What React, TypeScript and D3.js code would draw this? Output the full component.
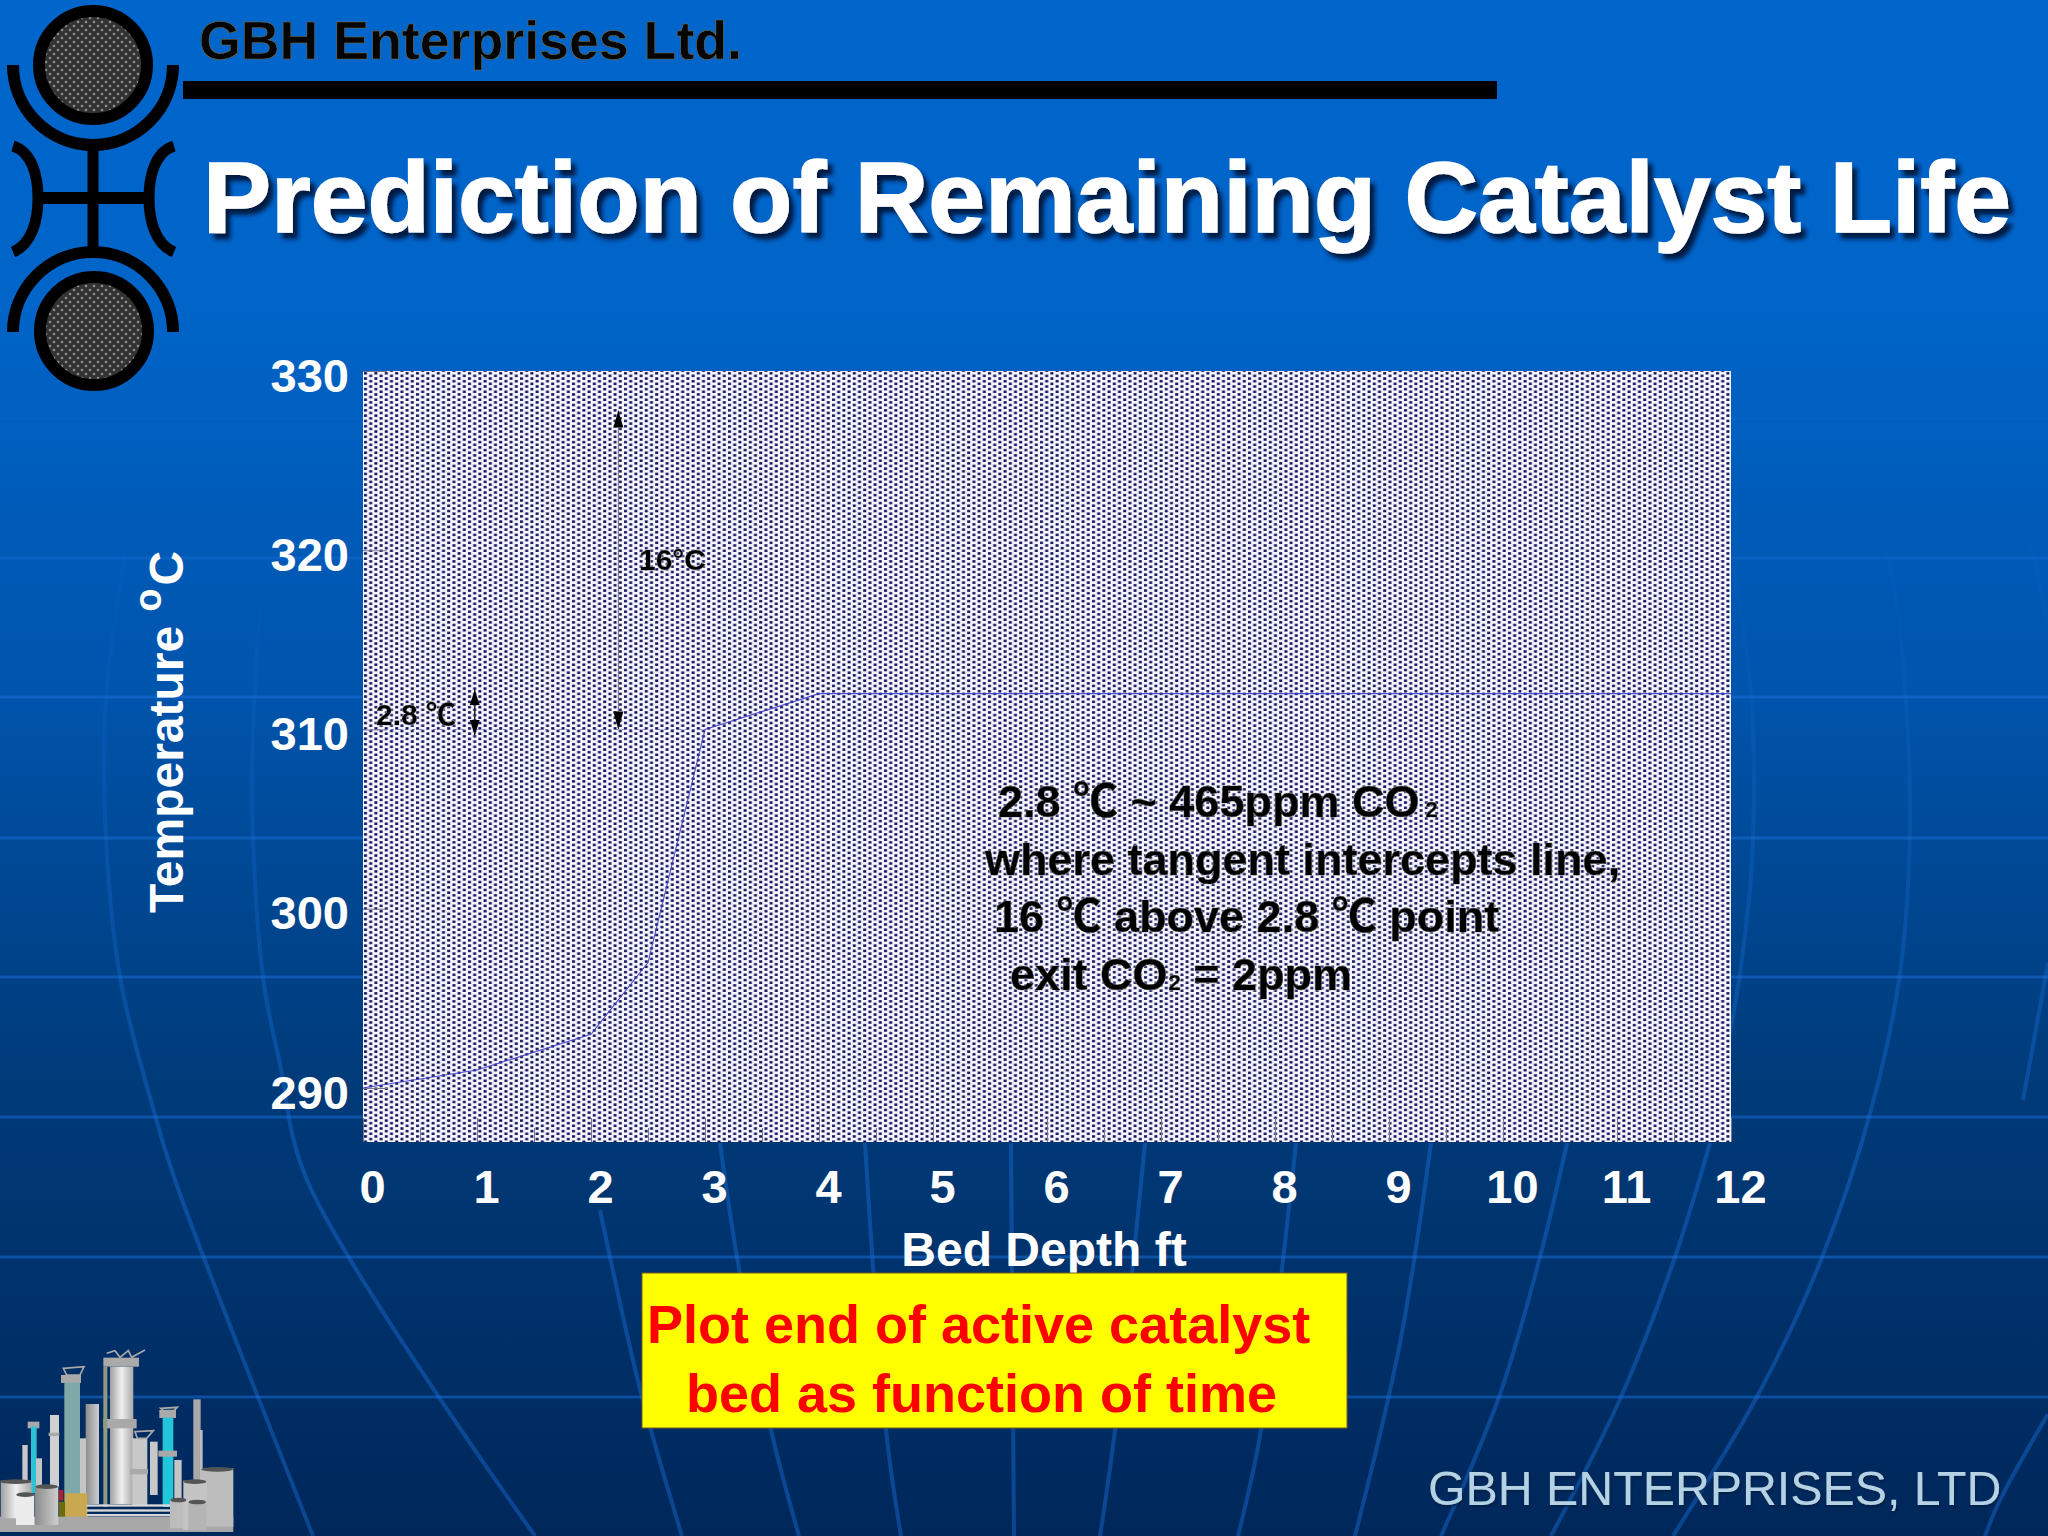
import React, { useEffect, useRef } from 'react';
import * as d3 from 'd3';

// chart values
const bedDepth = [0, 1, 2, 2.5, 3, 4, 5, 8, 12];
const temperature = [290, 291, 293, 297, 310, 312, 312, 312, 312];
const xMajorTicks = [0, 1, 2, 3, 4, 5, 6, 7, 8, 9, 10, 11, 12];
const xMinorTicks = [0.5, 1.5, 2.5, 3.5, 4.5, 5.5, 6.5, 7.5, 8.5, 9.5, 10.5, 11.5];
const yTicks = [290, 300, 310, 320, 330];
const referenceDepth = [0, 3];
const referenceTemp = [310, 310];
const tangentDepth = 2.24;
const tangentTemps = [327.8, 310];
const smallArrowDepth = 0.98;
const smallArrowTemps = [312.2, 309.7];

const noteLines = [
  { x: 998, y: 817, text: '2.8 ℃ ~ 465ppm CO', sub: '2', tail: '' },
  { x: 985, y: 875, text: 'where tangent intercepts line,', sub: '', tail: '' },
  { x: 994, y: 932, text: '16 ℃ above 2.8 ℃ point', sub: '', tail: '' },
  { x: 1010, y: 990, text: 'exit CO', sub: '2', tail: ' = 2ppm' },
];

// background globe lines
const latitudes = [418, 558, 697, 838, 977, 1117, 1257, 1397];
const meridians: [number, number][][] = [
  [[133, 507], [107, 686], [105, 814], [120, 977], [155, 1115], [175, 1180], [313, 1536]],
  [[260, 610], [252, 788], [263, 977], [280, 1064], [307, 1180], [535, 1536]],
  [[600, 1210], [641, 1393], [682, 1536]],
  [[720, 1143], [738, 1263], [771, 1430], [799, 1536]],
  [[865, 1143], [886, 1430], [901, 1536]],
  [[1011, 1143], [1014, 1536]],
  [[1145, 1143], [1115, 1430], [1100, 1536]],
  [[1296, 1143], [1261, 1430], [1238, 1536]],
  [[1431, 1143], [1400, 1343], [1355, 1536]],
  [[1567, 1143], [1540, 1257], [1499, 1397], [1441, 1536]],
  [[1720, 500], [1743, 626], [1752, 708], [1752, 861], [1740, 973], [1725, 1060]],
  [[1710, 1143], [1675, 1257], [1621, 1397], [1551, 1536]],
  [[1857, 443], [1880, 524], [1897, 606], [1910, 810], [1900, 973], [1871, 1110], [1821, 1260], [1759, 1393], [1673, 1536]],
  [[2000, 438], [2033, 555], [2048, 627]],
  [[2048, 963], [2023, 1100]],
  [[2048, 1414], [2000, 1500], [1985, 1536]],
];

// little plant drawing, bottom left: x, y, w, h, fill
const plantParts: [number, number, number, number, string][] = [
  [67, 375, 16, 105, '#c8c8c8'],
  [83, 305, 35, 20, '#a9a9a9'],
  [93, 320, 17, 200, '#28c4d6'],
  [108, 415, 18, 85, '#c4c4c4'],
  [150, 285, 27, 215, '#d0d0d0'],
  [146, 338, 32, 10, '#a9a9a9'],
  [257, 252, 40, 300, 'url(#steel)'],
  [240, 355, 18, 190, '#c4c4c4'],
  [183, 165, 60, 24, '#a9a9a9'],
  [193, 188, 47, 360, '#7fa9a9'],
  [330, 140, 70, 412, 'url(#steelLight)'],
  [310, 113, 107, 27, '#a9a9a9'],
  [310, 297, 100, 28, '#a9a9a9'],
  [310, 140, 12, 420, '#8f9a80'],
  [397, 355, 45, 200, '#c8c8c8'],
  [390, 447, 54, 16, '#a9a9a9'],
  [450, 365, 23, 160, '#c8c8c8'],
  [478, 270, 50, 24, '#a9a9a9'],
  [488, 293, 32, 268, '#22c6d8'],
  [475, 392, 56, 18, '#a9a9a9'],
  [523, 420, 22, 115, '#c4c4c4'],
  [580, 238, 22, 245, '#a9a9a9'],
  [600, 330, 8, 150, '#bdbdbd'],
  [177, 510, 13, 32, '#b0222a'],
  [195, 520, 67, 92, '#c9a850'],
  [177, 545, 18, 63, '#6b6b10'],
  [0, 590, 700, 46, '#a8a8a8'],
  [260, 553, 250, 7, '#d8d8d8'],
  [260, 568, 250, 7, '#d8d8d8'],
  [260, 582, 250, 7, '#d8d8d8'],
  [2, 482, 93, 113, 'url(#steelLight)'],
  [48, 522, 55, 93, '#ececec'],
  [105, 498, 70, 117, 'url(#steel)'],
  [510, 540, 50, 85, '#bcbcbc'],
  [603, 445, 97, 175, '#bdbdbd'],
  [550, 482, 70, 148, '#c4c4c4'],
  [565, 545, 55, 85, '#b4b4b4'],
];
const plantLids: [number, number, number][] = [
  [48, 485, 46], [76, 524, 27], [140, 500, 34], [585, 485, 34], [652, 448, 48], [535, 540, 24], [592, 546, 26],
];

const FONT = '"Liberation Sans", Arial, "Noto Sans CJK SC", sans-serif';

const xScale = d3.scaleLinear().domain([0, 12]).range([363, 1731]);
const yScale = d3.scaleLinear().domain([290, 330]).range([1088, 371]);
const plotBottom = 1142;
const latOpacity = d3.scaleLinear().domain([418, 700]).range([0.2, 0.5]).clamp(true);

const App: React.FC = () => {
  const axisRef = useRef<SVGGElement>(null);

  useEffect(() => {
    if (!axisRef.current) return;
    const g = d3.select(axisRef.current);
    g.selectAll('*').remove();

    // x axis, ticks point up into the plot
    const xAxis = g.append('g')
      .attr('transform', `translate(0,${plotBottom})`)
      .call(d3.axisBottom(xScale).tickValues(xMajorTicks).tickSize(-24).tickFormat(d => String(d)));
    xAxis.select('.domain').remove();
    xAxis.selectAll('line').attr('stroke', '#77778f').attr('stroke-width', 1);
    xAxis.selectAll('text')
      .attr('y', 61).attr('dy', 0).attr('dx', 9)
      .attr('fill', '#fff')
      .style('font', `bold 47px ${FONT}`);

    const xMinor = g.append('g')
      .attr('transform', `translate(0,${plotBottom})`)
      .call(d3.axisBottom(xScale).tickValues(xMinorTicks).tickSize(-14).tickFormat(() => ''));
    xMinor.select('.domain').remove();
    xMinor.selectAll('line').attr('stroke', '#77778f').attr('stroke-width', 1);

    // y axis
    const yAxis = g.append('g')
      .attr('transform', `translate(${xScale(0)},0)`)
      .call(d3.axisLeft(yScale).tickValues(yTicks).tickSize(-24).tickFormat(d => String(d)));
    yAxis.select('.domain').remove();
    yAxis.selectAll('line').attr('stroke', '#77778f').attr('stroke-width', 1);
    yAxis.selectAll('text')
      .attr('x', -14).attr('dy', 20)
      .attr('fill', '#fff')
      .style('font', `bold 47px ${FONT}`);
  }, []);

  const curve = d3.line<number>()
    .x(d => xScale(bedDepth[d]))
    .y(d => yScale(temperature[d]))(bedDepth.map((_, i) => i)) || '';
  const refLine = d3.line<number>()
    .x(d => xScale(referenceDepth[d]))
    .y(d => yScale(referenceTemp[d]))([0, 1]) || '';
  const meridianPath = d3.line<[number, number]>().curve(d3.curveCatmullRom);

  const tx = xScale(tangentDepth);
  const [ty0, ty1] = tangentTemps.map(t => yScale(t));
  const sx = xScale(smallArrowDepth);
  const [sy0, sy1] = smallArrowTemps.map(t => yScale(t));

  return (
    <svg
      width={2048}
      height={1536}
      style={{ position: 'absolute', left: 0, top: 0, display: 'block' }}
      fontFamily={FONT}
    >
      <defs>
        <linearGradient id="bg" x1="0" y1="0" x2="0" y2="1">
          <stop offset="0" stopColor="#0066cc" />
          <stop offset="0.2" stopColor="#0064c8" />
          <stop offset="0.45" stopColor="#0054ac" />
          <stop offset="0.7" stopColor="#003b7a" />
          <stop offset="1" stopColor="#00275a" />
        </linearGradient>
        <linearGradient id="meridianFade" gradientUnits="userSpaceOnUse" x1="0" y1="480" x2="0" y2="1150">
          <stop offset="0" stopColor="#1a70dc" stopOpacity="0" />
          <stop offset="0.5" stopColor="#1a70dc" stopOpacity="0.22" />
          <stop offset="1" stopColor="#1a70dc" stopOpacity="0.42" />
        </linearGradient>
        <linearGradient id="steel" x1="0" y1="0" x2="1" y2="0">
          <stop offset="0" stopColor="#8c8c8c" />
          <stop offset="1" stopColor="#cfcfcf" />
        </linearGradient>
        <linearGradient id="steelLight" x1="0" y1="0" x2="1" y2="0">
          <stop offset="0" stopColor="#a0a0a0" />
          <stop offset="0.5" stopColor="#f0f0f0" />
          <stop offset="1" stopColor="#a8a8a8" />
        </linearGradient>
        <pattern id="dots" width="10.4" height="5.3" patternUnits="userSpaceOnUse" x="363" y="371">
          <rect width="10.4" height="5.3" fill="#f6f6ff" />
          <rect x="1" y="1" width="3" height="2.5" fill="#14145c" />
          <rect x="6.2" y="3.65" width="3" height="1.65" fill="#14145c" />
          <rect x="6.2" y="0" width="3" height="0.85" fill="#14145c" />
        </pattern>
        <pattern id="logoDots" width="8" height="8" patternUnits="userSpaceOnUse">
          <rect width="8" height="8" fill="#333" />
          <circle cx="2" cy="2" r="1.3" fill="#8d8d8d" />
          <circle cx="6" cy="6" r="1.3" fill="#8d8d8d" />
        </pattern>
        <filter id="titleShadow" x="-5%" y="-20%" width="110%" height="150%">
          <feDropShadow dx="5" dy="6" stdDeviation="2" floodColor="#00193c" floodOpacity="0.95" />
        </filter>
        <filter id="footShadow" x="-5%" y="-20%" width="110%" height="150%">
          <feDropShadow dx="1" dy="2" stdDeviation="1" floodColor="#001a3c" floodOpacity="0.7" />
        </filter>
        <filter id="haze" x="-5%" y="-20%" width="110%" height="140%">
          <feDropShadow dx="0" dy="0" stdDeviation="0.8" floodColor="#ffffff" floodOpacity="0.6" />
        </filter>
      </defs>

      <rect width={2048} height={1536} fill="url(#bg)" />

      {/* globe lines behind everything */}
      <g fill="none">
        {latitudes.map(y => (
          <line key={y} x1={0} x2={2048} y1={y} y2={y} stroke="#1a70dc" strokeOpacity={latOpacity(y)} strokeWidth={3} />
        ))}
        {meridians.map((m, i) => (
          <path key={i} d={meridianPath(m) || ''} stroke="url(#meridianFade)" strokeWidth={4} />
        ))}
      </g>

      {/* logo */}
      <g fill="none" stroke="#000">
        <circle cx={93} cy={65} r={54} fill="url(#logoDots)" strokeWidth={12} />
        <circle cx={94} cy={331} r={54} fill="url(#logoDots)" strokeWidth={12} />
        <path d="M13,65 A80,80 0 0 0 173,65" strokeWidth={12} />
        <path d="M13,332 A80,80 0 0 1 173,332" strokeWidth={12} />
        <path d="M93,146 V250" strokeWidth={11} />
        <path d="M40,198 H146" strokeWidth={12} />
        <path d="M13,146 C32,152 38,176 38,198 C38,220 32,244 13,252" strokeWidth={11} />
        <path d="M174,146 C155,152 149,176 149,198 C149,220 155,244 174,252" strokeWidth={11} />
      </g>

      <text x={199} y={59} fontSize={53} fontWeight="bold" fill="#050505" stroke="#8a6a30" strokeWidth={0.5} textLength={543} lengthAdjust="spacingAndGlyphs">GBH Enterprises Ltd.</text>
      <rect x={183} y={81} width={1314} height={18} fill="#000" />
      <text x={203} y={232} fontSize={100} fontWeight="bold" fill="#fff" stroke="#fff" strokeWidth={1.5} filter="url(#titleShadow)" textLength={1808} lengthAdjust="spacingAndGlyphs">Prediction of Remaining Catalyst Life</text>

      {/* plot area */}
      <rect x={xScale(0)} y={yScale(330)} width={xScale(12) - xScale(0)} height={plotBottom - yScale(330)} fill="url(#dots)" />
      <path d={refLine} fill="none" stroke="#3a3ac0" strokeWidth={1} strokeDasharray="3 4" strokeOpacity={0.55} />
      <path d={curve} fill="none" stroke="#3c3ccc" strokeWidth={1.1} strokeOpacity={0.9} />
      <g ref={axisRef} />

      {/* 16 C bracket */}
      <line x1={tx} x2={tx} y1={ty0} y2={ty1} stroke="#6b6b7a" strokeWidth={1} />
      <path d={`M${tx},${ty0} l-5,17 h10 Z`} fill="#000" />
      <path d={`M${tx},${ty1} l-5,-18 h10 Z`} fill="#000" />
      <text x={639} y={570} fontSize={30} fontWeight="bold" fill="#000" stroke="#000" strokeWidth={0.4} filter="url(#haze)">16°C</text>

      {/* 2.8 C bracket */}
      <line x1={sx} x2={sx} y1={sy0} y2={sy1} stroke="#222" strokeWidth={1.5} />
      <path d={`M${sx},${sy0} l-5,15 h10 Z`} fill="#000" />
      <path d={`M${sx},${sy1} l-5,-15 h10 Z`} fill="#000" />
      <text x={376} y={725} fontSize={30} fontWeight="bold" fill="#000" stroke="#000" strokeWidth={0.4} filter="url(#haze)">2.8 ℃</text>

      {noteLines.map(l => (
        <text key={l.y} x={l.x} y={l.y} fontSize={45} fontWeight="bold" fill="#000" stroke="#000" strokeWidth={0.7} filter="url(#haze)">
          {l.text}
          {l.sub && <tspan fontSize={22} dx={l.tail ? 1 : 6}>{l.sub}</tspan>}
          {l.tail && <tspan>{l.tail}</tspan>}
        </text>
      ))}

      {/* axis titles */}
      <text x={1044} y={1266} fontSize={48} fontWeight="bold" fill="#fff" textAnchor="middle">Bed Depth ft</text>
      <text transform="translate(183,913) rotate(-90)" fontSize={48} fontWeight="bold" fill="#fff">
        Temperature
        <tspan dx={14} dy={-22} fontSize={38}>o</tspan>
        <tspan dy={22} dx={3}>C</tspan>
      </text>

      {/* callout */}
      <rect x={642} y={1273} width={705} height={155} fill="#ffff00" stroke="#7a5a20" strokeWidth={1} />
      <text x={647} y={1343} fontSize={54} fontWeight="bold" fill="#ff0000">Plot end of active catalyst</text>
      <text x={686} y={1412} fontSize={54} fontWeight="bold" fill="#ff0000">bed as function of time</text>

      <text x={1428} y={1505} fontSize={48.3} fill="#b5d2e4" filter="url(#footShadow)">GBH ENTERPRISES, LTD</text>

      {/* plant */}
      <g transform="translate(0,1320) scale(0.3333)">
        {plantParts.map((p, i) => (
          <rect key={i} x={p[0]} y={p[1]} width={p[2]} height={p[3]} fill={p[4]} />
        ))}
        {plantLids.map((p, i) => (
          <ellipse key={i} cx={p[0]} cy={p[1]} rx={p[2]} ry={7} fill="#555" />
        ))}
        <path d="M190,145 L252,140 L240,165 L200,165 Z M482,265 L532,262 L522,272 L490,272 Z M405,335 L460,332 L440,355 L412,355 Z M320,100 L345,92 L360,112 L385,92 L395,112 L435,90" fill="none" stroke="#a9a9a9" strokeWidth={5} />
      </g>
    </svg>
  );
};

export default App;
